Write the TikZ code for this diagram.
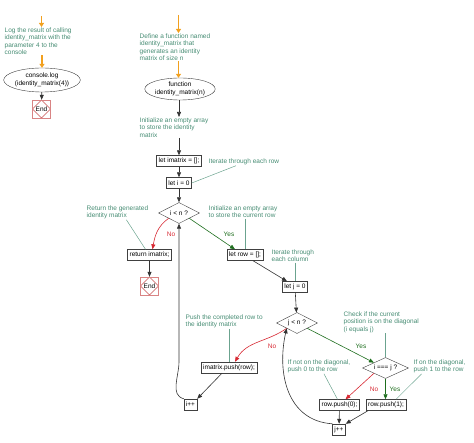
\documentclass[tikz,border=0pt]{standalone}
\usepackage{fontspec}
\setmainfont{Liberation Sans}
\usetikzlibrary{shapes.geometric,arrows.meta}
\definecolor{cmtc}{RGB}{70,140,115}
\definecolor{orgc}{RGB}{242,160,30}
\definecolor{noc}{RGB}{215,40,50}
\definecolor{yesc}{RGB}{30,110,30}
\definecolor{endc}{RGB}{200,80,80}
\begin{document}
\begin{tikzpicture}[x=1pt,y=-1pt,
  font=\fontsize{6.5}{7.4}\selectfont,
  box/.style={draw=black!75, fill=white, inner xsep=2pt, inner ysep=1pt, minimum height=11pt},
  dec/.style={diamond, draw=black!75, fill=white, aspect=2, inner sep=0.5pt, minimum width=41pt, minimum height=21pt},
  oval/.style={ellipse, draw=black!75, fill=white, inner sep=0pt, align=center},
  cmt/.style={text=cmtc, align=left, inner sep=0.5pt, anchor=north west},
  cline/.style={draw=cmtc!80, line width=0.5pt},
  flow/.style={draw=black!80, line width=0.6pt, -{Triangle[length=5pt,width=4pt]}},
  orgar/.style={draw=orgc, line width=1.4pt, -{Triangle[length=4pt,width=5pt]}},
  noar/.style={draw=noc, line width=0.6pt, -{Triangle[length=5pt,width=4pt]}},
  yesar/.style={draw=yesc, line width=0.6pt, -{Triangle[length=5pt,width=4pt]}},
  nolab/.style={text=noc, inner sep=0.5pt},
  yeslab/.style={text=yesc, inner sep=0.5pt},
  endn/.style={draw=endc!70, minimum size=18pt, inner sep=0pt,
    path picture={\draw[endc] (path picture bounding box.north) -- (path picture bounding box.east) -- (path picture bounding box.south) -- (path picture bounding box.west) -- cycle;}}
]
\useasboundingbox (0,0) rectangle (474,443);

% left column
\coordinate (o1) at (41.5,16);
\node[cmt] (c1) at (4,27) {Log the result of calling\\identity\_matrix with the\\parameter 4 to the\\console};
\node[oval, minimum width=70pt, minimum height=24pt] (e1) at (42,80) {console.log\\(identity\_matrix(4))};
\node[endn] (end1) at (41.5,109) {End};

% main function
\coordinate (o2) at (178.5,15);
\node[cmt] (c2) at (139,33) {Define a function named\\identity\_matrix that\\generates an identity\\matrix of size n};
\node[oval, minimum width=68pt, minimum height=22pt] (e2) at (180,89) {function\\identity\_matrix(n)};
\node[cmt] (c3) at (139,117) {Initialize an empty array\\to store the identity\\matrix};
\node[box] (b1) at (179,161) {let imatrix = [];};
\node[cmt, anchor=west] (c4) at (208,162) {Iterate through each row};
\node[box] (b2) at (179,183) {let i = 0};
\node[dec] (d1) at (179,213) {i < n ?};
\node[cmt] (c5) at (86,205) {Return the generated\\identity matrix};
\node[cmt] (c6) at (208,205) {Initialize an empty array\\to store the current row};
\node[box] (b3) at (149.5,255) {return imatrix;};
\node[endn] (end2) at (149.5,286) {End};
\node[box] (b4) at (245,255) {let row = [];};
\node[nolab] (n1) at (171,234) {No};
\node[yeslab] (y1) at (229,234) {Yes};
\node[cmt] (c7) at (271,249) {Iterate through\\each column};
\node[box] (b5) at (295,287) {let j = 0};
\node[dec] (d2) at (297,323) {j < n ?};
\node[cmt] (c8) at (185,314) {Push the completed row to\\the identity matrix};
\node[box] (b6) at (229,367.5) {imatrix.push(row);};
\node[box] (b7) at (190.5,404.5) {i++};
\node[nolab] (n2) at (272,346) {No};
\node[yeslab] (y2) at (361,346) {Yes};
\node[cmt] (c9) at (343,311) {Check if the current\\position is on the diagonal\\(i equals j)};
\node[dec, minimum width=46pt] (d3) at (385.5,368) {i === j ?};
\node[cmt] (c10) at (287,359) {If not on the diagonal,\\push 0 to the row};
\node[cmt] (c11) at (413,359) {If on the diagonal,\\push 1 to the row};
\node[nolab] (n3) at (374,389) {No};
\node[yeslab] (y3) at (395,389) {Yes};
\node[box] (b8) at (339.5,405) {row.push(0);};
\node[box] (b9) at (386,405) {row.push(1);};
\node[box] (b10) at (339,429.5) {j++};

% connectors
\draw[orgar] (o1) -- (o1 |- c1.north);
\draw[orgar] (c1.south -| e1.north) -- (e1.north);
\draw[flow] (e1) -- (end1);
\draw[orgar] (o2) -- (o2 |- c2.north);
\draw[orgar] (c2.south -| o2) -- (e2.north -| o2);
\draw[flow] (e2.south -| b1.north) -- (c3.north -| b1.north);
\draw[flow] (c3.south -| b1.north) -- (b1.north);
\draw[flow] (b1) -- (b2);
\draw[flow] (b2) -- (d1);
\draw[cline] ([xshift=-8pt]c4.south) -- (b2.east);
\draw[noar] (d1.south west) to[out=215,in=80] ([xshift=3pt]b3.north);
\draw[yesar] (d1.south east) -- ([xshift=-10pt]b4.north);
\draw[cline] ([xshift=9pt]c5.south) -- ([xshift=-4pt]b3.north);
\draw[cline] (c6.south -| b4.north) -- (b4.north);
\draw[flow] (b3) -- (end2);
\draw[flow] ([xshift=8pt]b4.south) -- ([xshift=-8pt]b5.north);
\draw[cline] (c7.south -| b5.north) -- (b5.north);
\draw[flow] (b5) -- (d2);
\draw[noar] (d2.south west) to[out=215,in=60] ([xshift=6pt]b6.north);
\draw[cline] (c8.south -| b6.north) -- (b6.north);
\draw[flow] ([xshift=-7pt]b6.south) -- (b7.north east);
\draw[flow] (b7.north west) to[out=165,in=270] (d1.south |- b6.north) -- (d1.south);
\draw[yesar] (d2.south east) -- (d3.north west);
\draw[cline] (c9.south -| d3.north) -- (d3.north);
\draw[noar] (d3.south west) -- ([xshift=6pt]b8.north);
\draw[yesar] (d3.south) -- (d3.south |- b9.north);
\draw[cline] ([xshift=5pt]c10.south) -- ([xshift=-2pt]b8.north);
\draw[cline] ([xshift=-18pt]c11.south) -- ([xshift=-10pt]b9.north east);
\draw[flow] (b8) -- (b10);
\draw[flow] ([xshift=-18pt]b9.south) -- (b10.north east);
\draw[flow] (b10.north west) .. controls +(-45,-3) and +(-10,45) .. (d2.south west);
\end{tikzpicture}
\end{document}
